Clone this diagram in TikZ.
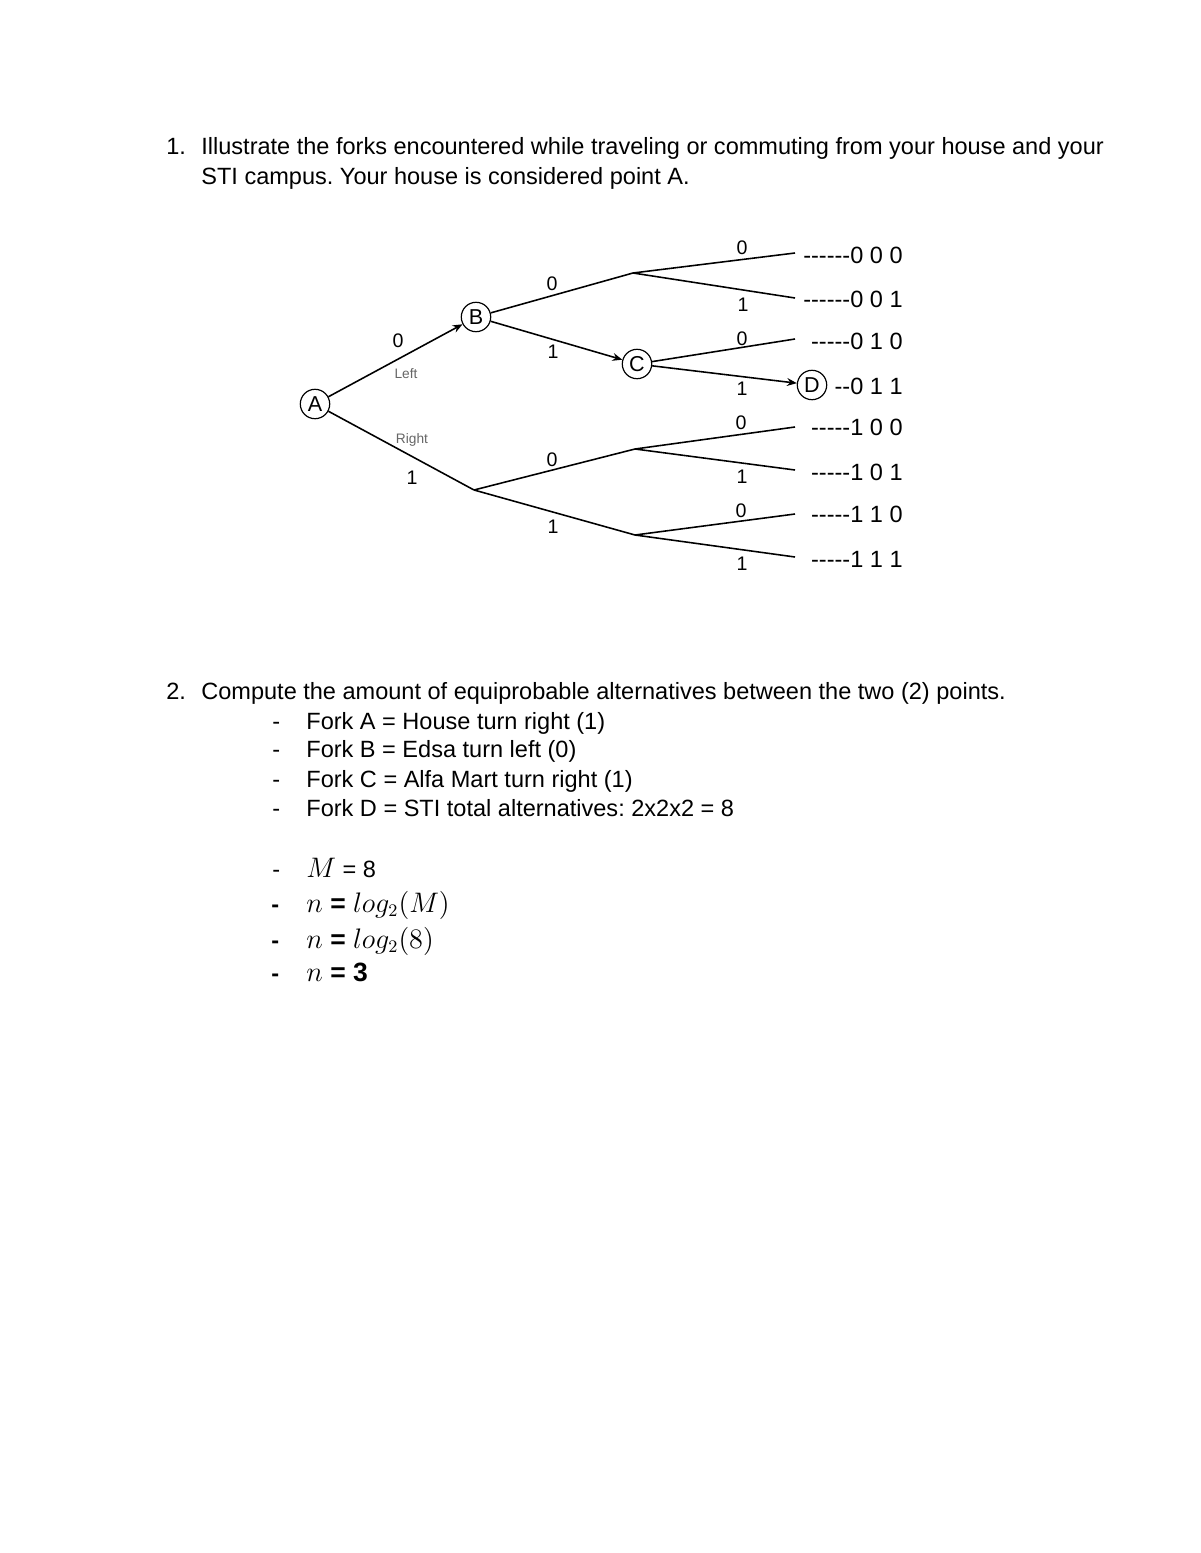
\documentclass[tikz,border=0pt]{standalone}
\usepackage{fontspec}
\setmainfont{Liberation Sans}
\usetikzlibrary{arrows.meta}
\newcommand\hy{\mbox{-}}
\frenchspacing
\begin{document}
\begin{tikzpicture}[x=0.51pt,y=-0.51pt,
  fork/.style={circle,draw,line width=0.6pt,inner sep=0pt,minimum size=15pt,font=\fontsize{11}{12}\selectfont},
  branch/.style={line width=0.8pt},
  arr/.style={branch,-{Stealth[length=5pt,width=4pt]}},
  blab/.style={font=\fontsize{10}{11}\selectfont,inner sep=0pt},
  side/.style={font=\fontsize{7}{8}\selectfont,text=black!60,inner sep=0pt},
  leaf/.style={font=\fontsize{12}{13}\selectfont,anchor=east,inner sep=0pt},
  body/.style={font=\fontsize{12}{14}\selectfont,anchor=base west,inner sep=0pt},
  boldbody/.style={body,font=\bfseries\fontsize{12}{14}\selectfont},
  mathl/.style={font=\fontsize{13.5}{15}\selectfont,anchor=base west,inner sep=0pt}]
\useasboundingbox (0,0) rectangle (1200,1553);
\fill[white] (0,0) rectangle (1200,1553);

% ---------- question 1 ----------
\node[body] (n1) at (166,155) {1.};
\node[body] (q1a) at (201,155) {Illustrate the forks encountered while traveling or commuting from your house and your};
\node[body] (q1b) at (201,185) {STI campus. Your house is considered point A.};

% ---------- tree ----------
\node[fork] (A) at (315,404) {A};
\node[fork] (B) at (476,317) {B};
\node[fork] (C) at (637,364) {C};
\node[fork] (D) at (812,385) {D};
\coordinate (F0) at (633,273);
\coordinate (R)  at (474,490);
\coordinate (F10) at (635,449);
\coordinate (F11) at (635,535);
\coordinate (L000) at (795,253);
\coordinate (L001) at (795,298);
\coordinate (L010) at (795,339);
\coordinate (L100) at (795,427);
\coordinate (L101) at (795,470);
\coordinate (L110) at (795,514);
\coordinate (L111) at (795,557);

\draw[arr] (A) -- (B);
\draw[branch] (A) -- (R);
\draw[branch] (B) -- (F0);
\draw[arr] (B) -- (C);
\draw[branch] (F0) -- (L000);
\draw[branch] (F0) -- (L001);
\draw[branch] (C) -- (L010);
\draw[arr] (C) -- (D);
\draw[branch] (R) -- (F10);
\draw[branch] (R) -- (F11);
\draw[branch] (F10) -- (L100);
\draw[branch] (F10) -- (L101);
\draw[branch] (F11) -- (L110);
\draw[branch] (F11) -- (L111);

% branch labels
\node[blab] (lab1) at (398,341) {0};
\node[side] (left) at (406,374) {Left};
\node[side] (right) at (412,440) {Right};
\node[blab] (lab2) at (412,478) {1};
\node[blab] (lab3) at (552,284) {0};
\node[blab] (lab4) at (553,352) {1};
\node[blab] (lab5) at (742,248) {0};
\node[blab] (lab6) at (743,305) {1};
\node[blab] (lab7) at (742,339) {0};
\node[blab] (lab8) at (742,389) {1};
\node[blab] (lab9) at (552,460) {0};
\node[blab] (lab10) at (553,527) {1};
\node[blab] (lab11) at (741,423) {0};
\node[blab] (lab12) at (742,477) {1};
\node[blab] (lab13) at (741,511) {0};
\node[blab] (lab14) at (742,564) {1};

% leaf codes
\node[leaf] (c000) at (903,255) {\hy\hy\hy\hy\hy\hy0 0 0};
\node[leaf] (c001) at (903,299) {\hy\hy\hy\hy\hy\hy0 0 1};
\node[leaf] (c010) at (903,341) {\hy\hy\hy\hy\hy0 1 0};
\node[leaf] (c011) at (903,386) {\hy\hy0 1 1};
\node[leaf] (c100) at (903,427) {\hy\hy\hy\hy\hy1 0 0};
\node[leaf] (c101) at (903,472) {\hy\hy\hy\hy\hy1 0 1};
\node[leaf] (c110) at (903,514) {\hy\hy\hy\hy\hy1 1 0};
\node[leaf] (c111) at (903,559) {\hy\hy\hy\hy\hy1 1 1};

% ---------- question 2 ----------
\node[body] (n2) at (166,699) {2.};
\node[body] (q2) at (201,699) {Compute the amount of equiprobable alternatives between the two (2) points.};
\node[body] (d1) at (272,729) {-};
\node[body] (i1) at (306,729) {Fork A = House turn right (1)};
\node[body] (d2) at (272,757) {-};
\node[body] (i2) at (306,757) {Fork B = Edsa turn left (0)};
\node[body] (d3) at (272,787) {-};
\node[body] (i3) at (306,787) {Fork C = Alfa Mart turn right (1)};
\node[body] (d4) at (272,816) {-};
\node[body] (i4) at (306,816) {Fork D = STI total alternatives: 2x2x2 = 8};

\node[body] (d5) at (272,877) {-};
\node[body] (m1) at (306,877) {{\fontsize{13.5}{15}\selectfont$M$} = 8};
\node[boldbody] (d6) at (271,912) {-};
\node[mathl] (m2) at (306,912) {$n$ \textbf{=} $log_2(M)$};
\node[boldbody] (d7) at (271,948) {-};
\node[mathl] (m3) at (306,948) {$n$ \textbf{=} $log_2(8)$};
\node[boldbody] (d8) at (271,981) {-};
\node[mathl] (m4) at (306,981) {$n$ \textbf{= 3}};
\end{tikzpicture}
\end{document}
